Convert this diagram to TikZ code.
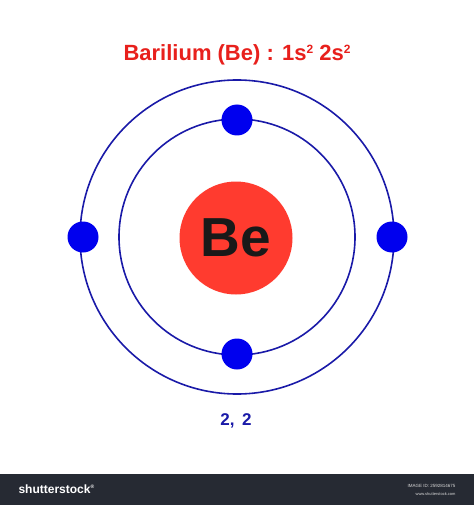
\documentclass[tikz,border=0pt]{standalone}
\usepackage{fontspec}
\setmainfont{Liberation Sans}
\definecolor{orbitc}{HTML}{1A1AA8}
\definecolor{elec}{HTML}{0000EE}
\definecolor{nuc}{HTML}{FF3B2F}
\definecolor{titlec}{HTML}{E8201C}
\definecolor{banner}{HTML}{262A33}
\newcommand{\supsm}[1]{\raisebox{7.5pt}{\fontsize{12}{12}\selectfont #1}}
\tikzset{
  orbit/.style={draw=orbitc, line width=1.6pt},
  electron/.style={circle, fill=elec, minimum size=31pt, inner sep=0pt},
}
\begin{document}
\begin{tikzpicture}[x=1pt,y=-1pt]
\useasboundingbox (0,0) rectangle (474,505);
\fill[white] (0,0) rectangle (474,505);
% title
\node[text=titlec, font=\bfseries\fontsize{22}{26}\selectfont] (title) at (237,55) {Barilium (Be) : 1s\supsm{2} 2s\supsm{2}};
% orbits
\draw[orbit] (237,237) circle[radius=157];
\draw[orbit] (237,237) circle[radius=118];
% nucleus
\node[circle, fill=nuc, minimum size=113pt, inner sep=0pt, text=black!90, font=\bfseries\fontsize{55}{55}\selectfont] (nucleus) at (236,238) {Be};
% electrons
\node[electron] (e1) at (237,120) {};
\node[electron] (e2) at (237,354) {};
\node[electron] (e3) at (83,237) {};
\node[electron] (e4) at (392,237) {};
% configuration
\node[text=orbitc, font=\bfseries\fontsize{17}{19}\selectfont] (conf) at (236,421) {2,\, 2};
% banner
\fill[banner] (0,474) rectangle (474,505);
\node[text=white, font=\bfseries\fontsize{12}{14}\selectfont, anchor=west] (ss) at (15,489) {shutterstock\textsuperscript{\tiny ®}};
\node[text=white!85!black, font=\fontsize{4.5}{5}\selectfont, anchor=east] (imgid) at (459,486) {IMAGE ID: 2592814675};
\node[text=white!85!black, font=\fontsize{4}{5}\selectfont, anchor=east] (www) at (459,494) {www.shutterstock.com};
\end{tikzpicture}
\end{document}
